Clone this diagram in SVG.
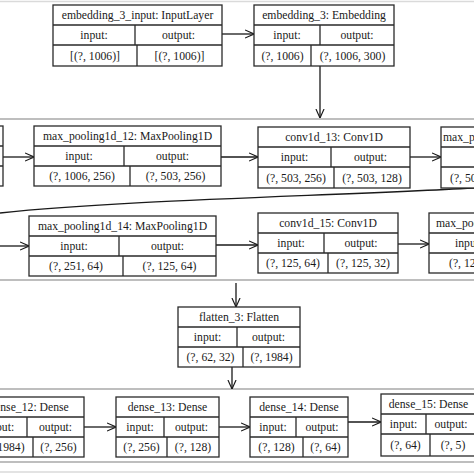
<svg xmlns="http://www.w3.org/2000/svg" width="474" height="474" viewBox="0 0 474 474">
<style>
.b{fill:#fff;stroke:#2a2a2a;stroke-width:1.3}
.l{stroke:#2a2a2a;stroke-width:1.3;fill:none}
.t{font-family:"Liberation Serif","Times New Roman",serif;font-size:11.7px;fill:#1a1a1a;text-anchor:middle}
.s{text-anchor:start}
.c{stroke:#1a1a1a;stroke-width:1.3;fill:none}
.p{stroke:#a8a8a8;stroke-width:1.4}
.q{stroke:#dadada;stroke-width:1.6}
</style>
<defs>
<marker id="ah" viewBox="0 0 10 10" refX="10" refY="5" markerWidth="9" markerHeight="10" orient="auto" markerUnits="userSpaceOnUse">
<path d="M0,0.5 L10,5 L0,9.5" fill="none" stroke="#1a1a1a" stroke-width="1.3"/>
</marker>
</defs>
<rect width="474" height="474" fill="#fff"/>
<g id="panels">
<line class="q" x1="0" y1="1.5" x2="474" y2="1.5"/>
<line class="p" x1="0" y1="119" x2="474" y2="119"/>
<line class="p" x1="0" y1="280" x2="474" y2="280"/>
<line class="p" x1="0" y1="389" x2="474" y2="389"/>
<line class="p" x1="0" y1="462" x2="474" y2="462"/>
<line class="q" x1="0" y1="472" x2="474" y2="472"/>
</g>
<g id="connectors">
<line class="c" x1="222" y1="34" x2="254" y2="34" marker-end="url(#ah)"/>
<line class="c" x1="320" y1="66" x2="320" y2="118" marker-end="url(#ah)"/>
<line class="c" x1="3" y1="157" x2="34" y2="157" marker-end="url(#ah)"/>
<line class="c" x1="221" y1="157" x2="258" y2="157" marker-end="url(#ah)"/>
<line class="c" x1="410" y1="157" x2="441" y2="157" marker-end="url(#ah)"/>
<path class="c" d="M474,188 C330,196 120,200 0,213"/>
<line class="c" x1="0" y1="246" x2="29" y2="246" marker-end="url(#ah)"/>
<line class="c" x1="216" y1="245" x2="258" y2="245" marker-end="url(#ah)"/>
<line class="c" x1="398" y1="244" x2="429" y2="244" marker-end="url(#ah)"/>
<line class="c" x1="236" y1="283" x2="236" y2="307" marker-end="url(#ah)"/>
<line class="c" x1="232" y1="367" x2="232" y2="389" marker-end="url(#ah)"/>
<line class="c" x1="84" y1="427" x2="116" y2="427" marker-end="url(#ah)"/>
<line class="c" x1="219" y1="427" x2="250" y2="427" marker-end="url(#ah)"/>
<line class="c" x1="348" y1="422" x2="381" y2="422" marker-end="url(#ah)"/>
</g>
<g id="embedding_3_input">
<rect class="b" x="53" y="5" width="169" height="61"/>
<path class="l" d="M53,25H222M53,45H222M135,25V45M137,45V66"/>
<text class="t" x="137.5" y="19">embedding_3_input: InputLayer</text>
<text class="t" x="94" y="39">input:</text>
<text class="t" x="178.5" y="39">output:</text>
<text class="t" x="95" y="59.5">[(?, 1006)]</text>
<text class="t" x="179.5" y="59.5">[(?, 1006)]</text>
</g>
<g id="embedding_3">
<rect class="b" x="254" y="5" width="140" height="61"/>
<path class="l" d="M254,25H394M254,45H394M320,25V45M311,45V66"/>
<text class="t" x="324" y="19">embedding_3: Embedding</text>
<text class="t" x="287" y="39">input:</text>
<text class="t" x="357" y="39">output:</text>
<text class="t" x="282.5" y="59.5">(?, 1006)</text>
<text class="t" x="352.5" y="59.5">(?, 1006, 300)</text>
</g>
<g id="conv1d_12">
<rect class="b" x="-60" y="126" width="63" height="60"/>
<path class="l" d="M-60,146H3M-60,166H3"/>
</g>
<g id="max_pooling1d_12">
<rect class="b" x="34" y="126" width="187" height="60"/>
<path class="l" d="M34,146H221M34,166H221M124,146V166M130,166V186"/>
<text class="t" x="127.5" y="140">max_pooling1d_12: MaxPooling1D</text>
<text class="t" x="79" y="160">input:</text>
<text class="t" x="172.5" y="160">output:</text>
<text class="t" x="82" y="180">(?, 1006, 256)</text>
<text class="t" x="175.5" y="180">(?, 503, 256)</text>
</g>
<g id="conv1d_13">
<rect class="b" x="258" y="127" width="152" height="61"/>
<path class="l" d="M258,147H410M258,167H410M331,147V167M334,167V188"/>
<text class="t" x="334" y="141">conv1d_13: Conv1D</text>
<text class="t" x="294.5" y="161">input:</text>
<text class="t" x="370.5" y="161">output:</text>
<text class="t" x="296" y="181.5">(?, 503, 256)</text>
<text class="t" x="372" y="181.5">(?, 503, 128)</text>
</g>
<g id="max_pooling1d_13">
<rect class="b" x="441" y="127" width="200" height="61"/>
<path class="l" d="M441,147H641M441,167H641"/>
<text class="t s" x="443" y="141">max_pooling1d_13: MaxPooling1D</text>
<text class="t s" x="450" y="181.5">(?, 503, 128)</text>
</g>
<g id="max_pooling1d_14">
<rect class="b" x="29" y="216" width="187" height="60"/>
<path class="l" d="M29,236H216M29,256H216M119,236V256M123,256V276"/>
<text class="t" x="122.5" y="230">max_pooling1d_14: MaxPooling1D</text>
<text class="t" x="74" y="250">input:</text>
<text class="t" x="167.5" y="250">output:</text>
<text class="t" x="76" y="270">(?, 251, 64)</text>
<text class="t" x="169.5" y="270">(?, 125, 64)</text>
</g>
<g id="conv1d_15">
<rect class="b" x="258" y="213" width="140" height="60"/>
<path class="l" d="M258,233H398M258,253H398M324,233V253M328,253V273"/>
<text class="t" x="328" y="227">conv1d_15: Conv1D</text>
<text class="t" x="291" y="247">input:</text>
<text class="t" x="361" y="247">output:</text>
<text class="t" x="293" y="267">(?, 125, 64)</text>
<text class="t" x="363" y="267">(?, 125, 32)</text>
</g>
<g id="max_pooling1d_15">
<rect class="b" x="429" y="213" width="200" height="60"/>
<path class="l" d="M429,233H629M429,253H629"/>
<text class="t s" x="436" y="227">max_pooling1d_15: MaxPooling1D</text>
<text class="t s" x="455" y="247">input:</text>
<text class="t s" x="449" y="267">(?, 125, 32)</text>
</g>
<g id="flatten_3">
<rect class="b" x="178" y="307" width="122" height="60"/>
<path class="l" d="M178,327H300M178,347H300M237,327V347M243,347V367"/>
<text class="t" x="239" y="321">flatten_3: Flatten</text>
<text class="t" x="207.5" y="341">input:</text>
<text class="t" x="268.5" y="341">output:</text>
<text class="t" x="210.5" y="361">(?, 62, 32)</text>
<text class="t" x="271.5" y="361">(?, 1984)</text>
</g>
<g id="dense_12">
<rect class="b" x="-26" y="397" width="110" height="60"/>
<path class="l" d="M-26,417H84M-26,437H84M27,417V437M33,437V457"/>
<text class="t" x="29" y="411">dense_12: Dense</text>
<text class="t" x="0.5" y="431">input:</text>
<text class="t" x="55.5" y="431">output:</text>
<text class="t" x="3.5" y="451">(?, 1984)</text>
<text class="t" x="58.5" y="451">(?, 256)</text>
</g>
<g id="dense_13">
<rect class="b" x="116" y="397" width="103" height="60"/>
<path class="l" d="M116,417H219M116,437H219M164,417V437M167,437V457"/>
<text class="t" x="167.5" y="411">dense_13: Dense</text>
<text class="t" x="140" y="431">input:</text>
<text class="t" x="191.5" y="431">output:</text>
<text class="t" x="141.5" y="451">(?, 256)</text>
<text class="t" x="193" y="451">(?, 128)</text>
</g>
<g id="dense_14">
<rect class="b" x="250" y="397" width="98" height="60"/>
<path class="l" d="M250,417H348M250,437H348M296,417V437M303,437V457"/>
<text class="t" x="299" y="411">dense_14: Dense</text>
<text class="t" x="273" y="431">input:</text>
<text class="t" x="322" y="431">output:</text>
<text class="t" x="276.5" y="451">(?, 128)</text>
<text class="t" x="325.5" y="451">(?, 64)</text>
</g>
<g id="dense_15">
<rect class="b" x="381" y="394" width="95" height="62"/>
<path class="l" d="M381,414H476M381,434H476M426,414V434M430,434V456"/>
<text class="t" x="428.5" y="408">dense_15: Dense</text>
<text class="t" x="403.5" y="428">input:</text>
<text class="t" x="451" y="428">output:</text>
<text class="t" x="405.5" y="449">(?, 64)</text>
<text class="t" x="453" y="449">(?, 5)</text>
</g>
</svg>
